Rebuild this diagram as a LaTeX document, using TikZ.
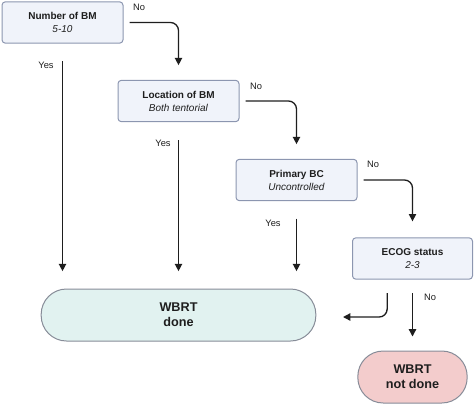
\documentclass[tikz,border=0pt]{standalone}
\usepackage{fontspec}
\setmainfont{Liberation Sans}
\usetikzlibrary{arrows.meta}

\definecolor{boxfill}{RGB}{240,243,250}
\definecolor{boxline}{RGB}{140,150,176}
\definecolor{donefill}{RGB}{225,242,240}
\definecolor{notfill}{RGB}{243,204,204}
\definecolor{endline}{RGB}{135,140,152}
\definecolor{ink}{RGB}{30,30,30}

\tikzset{every picture/.style={line width=0.75pt}}

\begin{document}
\begin{tikzpicture}[x=0.75pt,y=0.75pt,yscale=-1,xscale=1,
	qbox/.style={draw=boxline,fill=boxfill,rounded corners=2.5pt,align=center,text=ink,
		minimum width=90.75pt,minimum height=31pt,inner sep=0pt,
		font=\fontsize{7.5}{9.75}\selectfont},
	endbox/.style={draw=endline,rounded corners=19pt,align=center,text=ink,inner sep=0pt,
		minimum height=39pt,font=\fontsize{9.5}{11.25}\selectfont\bfseries},
	arr/.style={draw=ink,line width=1pt,rounded corners=6pt,-{Triangle[length=5.5pt,width=5.5pt]}},
	lbl/.style={text=ink,font=\fontsize{7}{8}\selectfont,inner sep=0pt}]
	\useasboundingbox (0,0) rectangle (474,404);

	% question boxes
	\node [qbox] (bm) at (62.5,22.5) {\textbf{Number of BM}\\\textit{5-10}};
	\node [qbox] (loc) at (178.5,101) {\textbf{Location of BM}\\\textit{Both tentorial}};
	\node [qbox] (pbc) at (296.5,180) {\textbf{Primary BC}\\\textit{Uncontrolled}};
	\node [qbox,minimum width=90pt] (ecog) at (412.5,258.5) {\textbf{ECOG status}\\\textit{2-3}};

	% outcomes
	\node [endbox,fill=donefill,minimum width=206pt] (done) at (178.5,315) {WBRT\\done};
	\node [endbox,fill=notfill,minimum width=82pt] (notdone) at (412.5,377) {WBRT\\not done};

	% No branches (yshift runs downwards here, as yscale=-1)
	\draw [arr] ([xshift=4.5pt]bm.east) -| ([yshift=-11pt]loc.north);
	\draw [arr] ([xshift=4.5pt]loc.east) -| ([yshift=-11pt]pbc.north);
	\draw [arr] ([xshift=4.5pt]pbc.east) -| ([yshift=-12pt]ecog.north);
	\draw [arr] ([yshift=10pt]notdone.north |- ecog.south) -- ([yshift=-10.5pt]notdone.north);

	% Yes branches
	\draw [arr] ([yshift=13pt]bm.south) -- ([yshift=-13pt]bm.south |- done.north);
	\draw [arr] ([yshift=13.5pt]loc.south) -- ([yshift=-13pt]loc.south |- done.north);
	\draw [arr] ([yshift=13pt]pbc.south) -- ([yshift=-13pt]pbc.south |- done.north);
	\draw [arr] ([xshift=-19pt,yshift=10pt]ecog.south) |- ([xshift=20pt,yshift=1.5pt]done.east);

	% labels
	\node [lbl] (no1) at (139,7) {No};
	\node [lbl] (no2) at (256,86) {No};
	\node [lbl] (no3) at (373,164) {No};
	\node [lbl] (no4) at (430,297) {No};
	\node [lbl] (yes1) at (46,65) {Yes};
	\node [lbl] (yes2) at (163,143) {Yes};
	\node [lbl] (yes3) at (273,223) {Yes};
\end{tikzpicture}
\end{document}
